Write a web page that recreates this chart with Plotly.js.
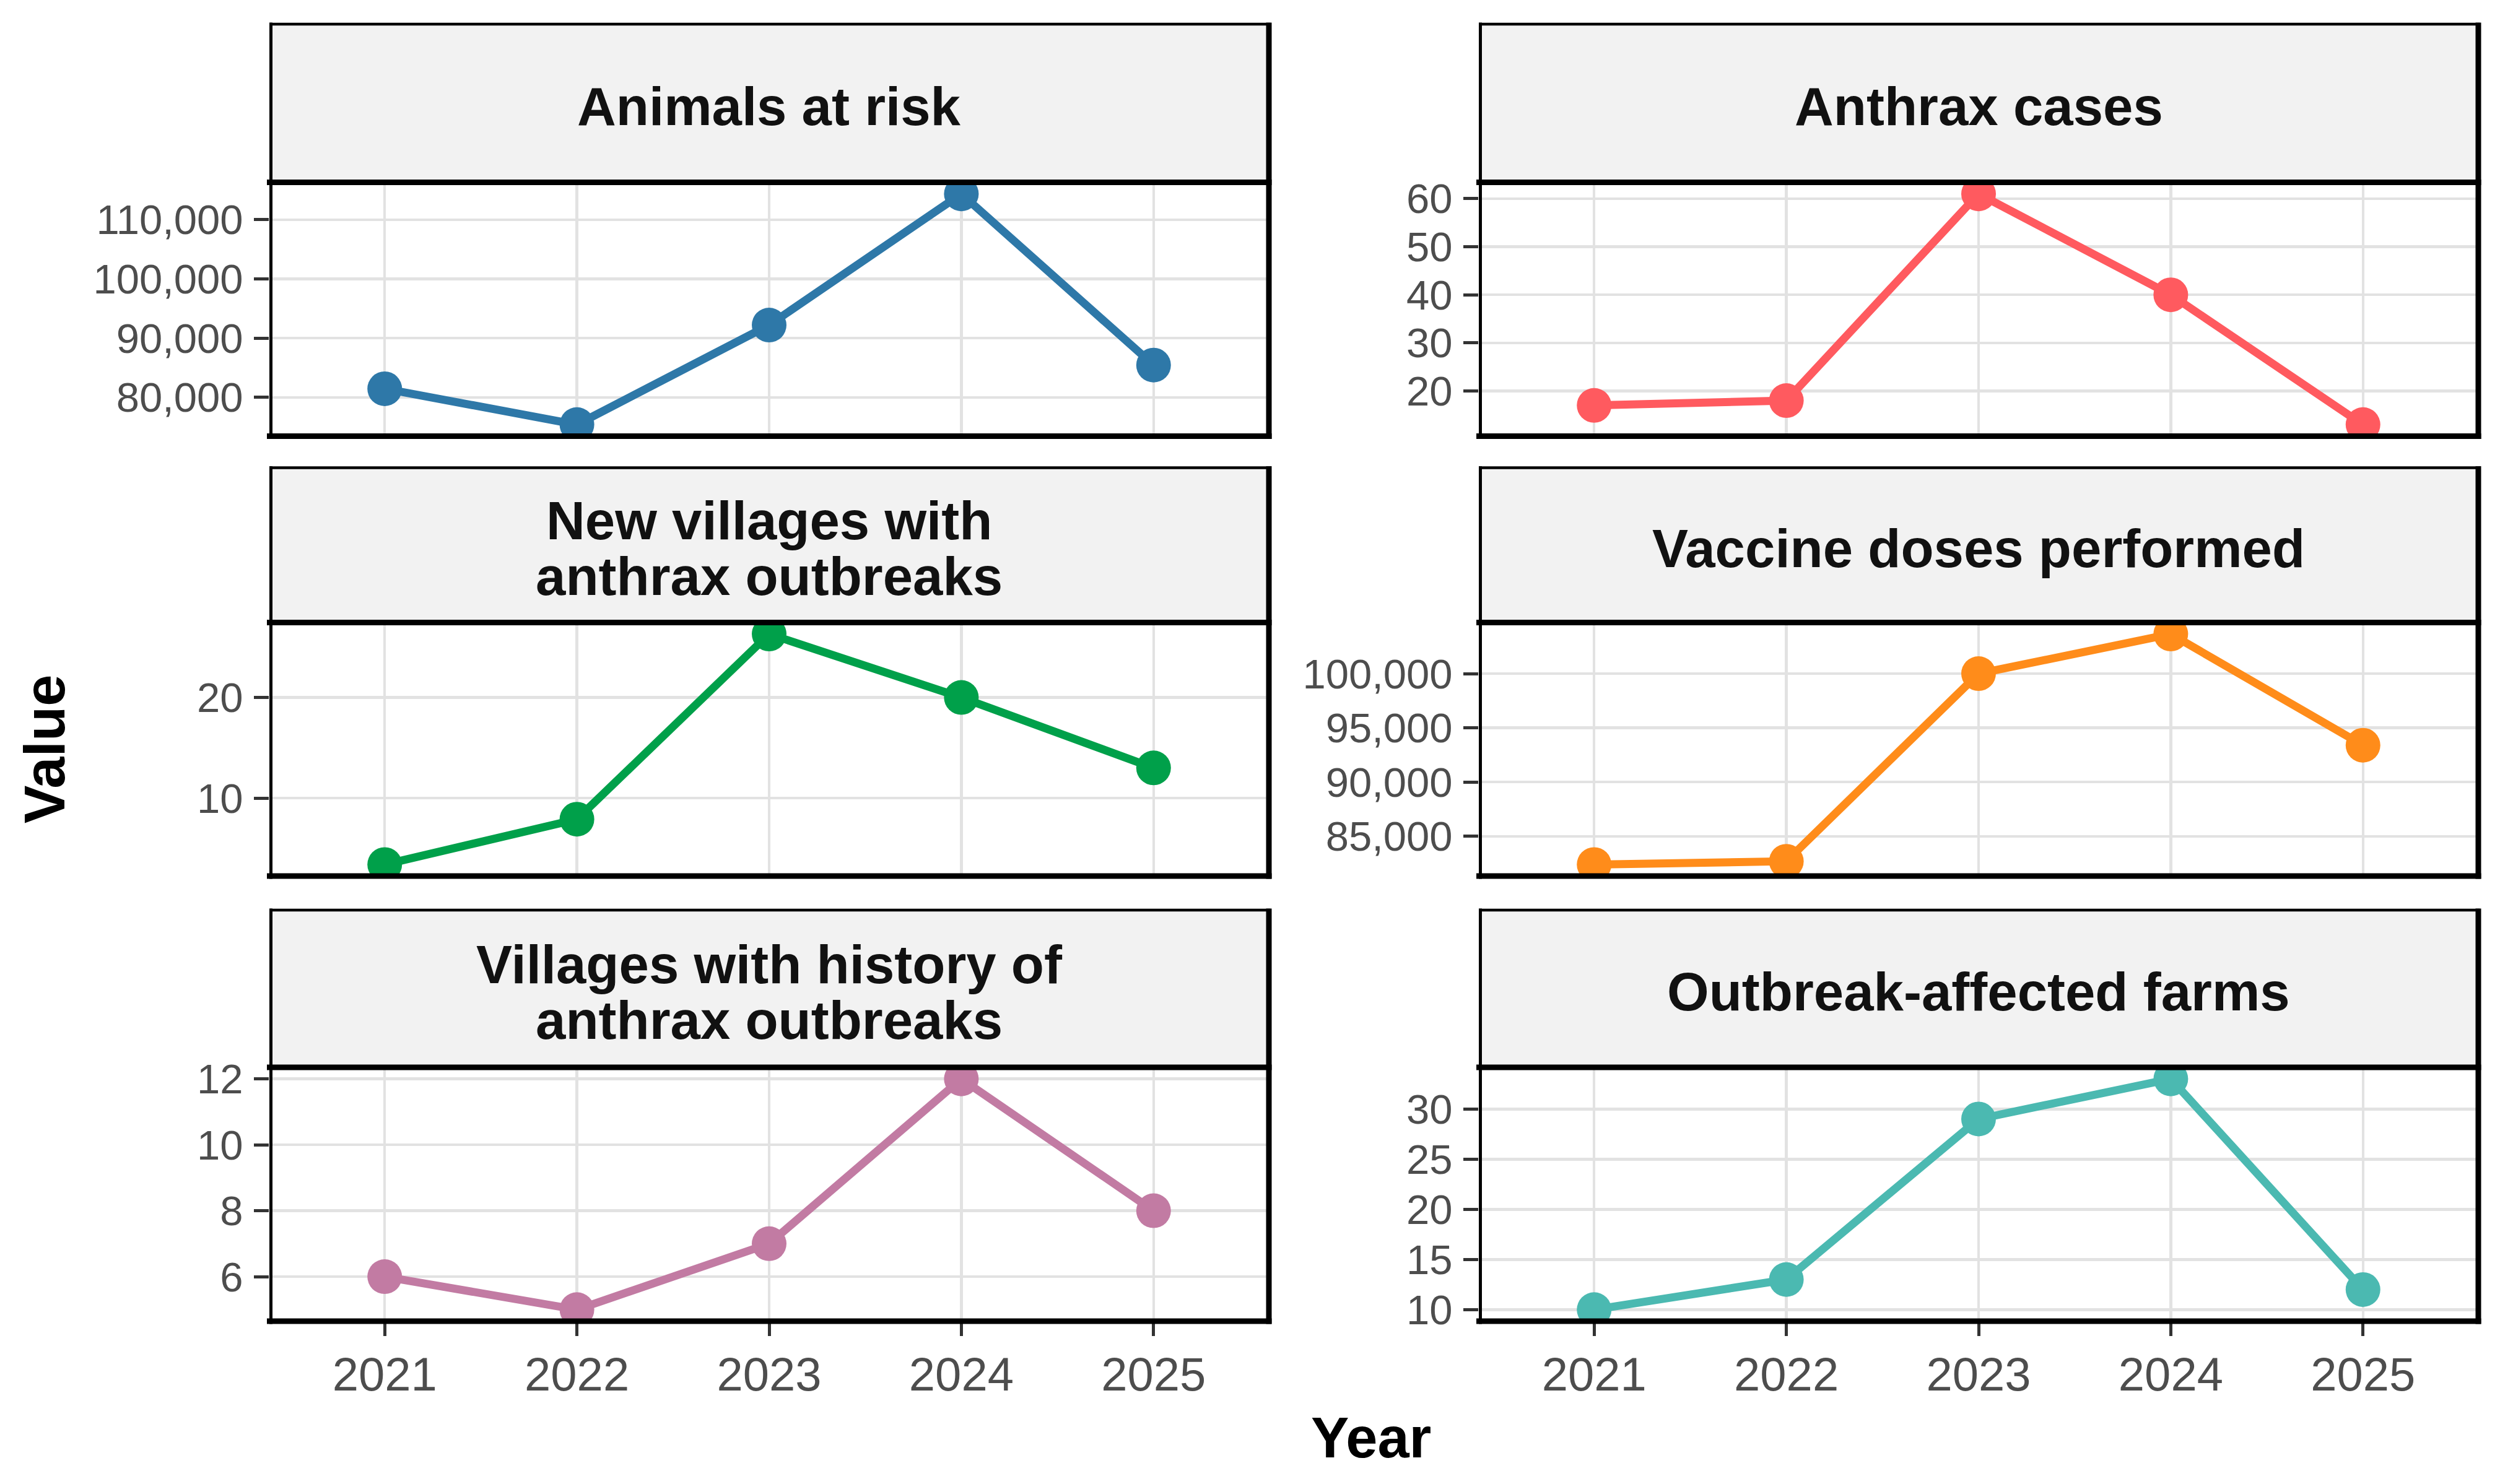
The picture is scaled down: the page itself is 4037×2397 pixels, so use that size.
<!DOCTYPE html>
<html>
<head>
<meta charset="utf-8">
<script src="https://cdn.plot.ly/plotly-3.0.1.min.js"></script>
<style>html,body{margin:0;padding:0;background:#fff;}#chart{width:4037px;height:2397px;}</style>
</head>
<body>
<div id="chart"></div>
<script>
// ---- data ----
const years = [2021, 2022, 2023, 2024, 2025];
const yearLabels = ["2021", "2022", "2023", "2024", "2025"];

const animalsAtRisk   = [81450, 75400, 92200, 114350, 85450];
const anthraxCases    = [17, 18, 61, 40, 13];
const newVillages     = [3.4, 7.9, 26.3, 20, 13];
const vaccineDoses    = [82400, 82700, 100000, 103650, 93400];
const villagesHistory = [6, 5, 7, 12, 8];
const affectedFarms   = [10, 13, 29, 33, 12];

const animalsTicks   = [80000, 90000, 100000, 110000];
const casesTicks     = [20, 30, 40, 50, 60];
const newVillTicks   = [10, 20];
const vaccineTicks   = [85000, 90000, 95000, 100000];
const historyTicks   = [6, 8, 10, 12];
const farmsTicks     = [10, 15, 20, 25, 30];

const panelTitles = [
  ["Animals at risk"],
  ["Anthrax cases"],
  ["New villages with", "anthrax outbreaks"],
  ["Vaccine doses performed"],
  ["Villages with history of", "anthrax outbreaks"],
  ["Outbreak-affected farms"]
];
const panelColors = ["#2E78A8", "#FF5A5F", "#00A04A", "#FF8C1A", "#C27BA3", "#4BB9B1"];
const panelValues = [animalsAtRisk, anthraxCases, newVillages, vaccineDoses, villagesHistory, affectedFarms];
const panelTicks  = [animalsTicks, casesTicks, newVillTicks, vaccineTicks, historyTicks, farmsTicks];

// ---- geometry (pixels) ----
const W = 4037, H = 2397;
const fx = p => p / W;
const fy = p => 1 - p / H;
const cols = [[435, 2049], [2388, 4002]];
const rows = [[294.5, 704.5], [1005.5, 1415], [1724, 2134]];
const stripTops = [39, 755.5, 1470];

const FONT = "Liberation Sans, Arial, Helvetica, sans-serif";
const traces = [];
const layout = {
  width: W, height: H,
  margin: {l: 0, r: 0, t: 0, b: 0},
  paper_bgcolor: "#ffffff",
  plot_bgcolor: "#ffffff",
  showlegend: false,
  font: {family: FONT},
  shapes: [],
  annotations: []
};

for (let i = 0; i < 6; i++) {
  const r = Math.floor(i / 2), c = i % 2;
  const n = i === 0 ? "" : String(i + 1);
  const vals = panelValues[i];
  const mn = Math.min(...vals), mx = Math.max(...vals);
  const pad = (mx - mn) * 0.05;
  const [x0, x1] = cols[c];
  const [y0, y1] = rows[r];
  const bottomRow = r === 2;

  traces.push({
    type: "scatter", mode: "lines+markers",
    x: years, y: vals,
    xaxis: "x" + n, yaxis: "y" + n,
    line: {color: panelColors[i], width: 13},
    marker: {color: panelColors[i], size: 56, line: {width: 0}},
    cliponaxis: true,
    hoverinfo: "x+y"
  });

  layout["xaxis" + n] = {
    domain: [fx(x0), fx(x1)],
    anchor: "y" + n,
    range: [2020.4, 2025.6],
    tickvals: years, ticktext: yearLabels,
    showgrid: true, gridcolor: "#E2E2E2", gridwidth: 4.5,
    zeroline: false, showline: false,
    ticks: bottomRow ? "outside" : "",
    ticklen: 23, tickwidth: 5, tickcolor: "#333333",
    showticklabels: bottomRow,
    tickfont: {family: FONT, size: 76, color: "#4D4D4D"},
    ticklabelstandoff: -3,
    fixedrange: true
  };
  layout["yaxis" + n] = {
    domain: [fy(y1), fy(y0)],
    anchor: "x" + n,
    range: [mn - pad, mx + pad],
    tickvals: panelTicks[i],
    tickformat: ",",
    showgrid: true, gridcolor: "#E2E2E2", gridwidth: 4.5,
    zeroline: false, showline: false,
    ticks: "outside", ticklen: 24, tickwidth: 5, tickcolor: "#333333",
    tickfont: {family: FONT, size: 67, color: "#4D4D4D"},
    ticklabelstandoff: 4,
    fixedrange: true
  };

  const st = stripTops[r];
  layout.shapes.push({
    type: "rect", xref: "paper", yref: "paper",
    x0: fx(x0 + 2.5), x1: fx(x1), y0: fy(y0), y1: fy(st),
    fillcolor: "#F2F2F2", line: {color: "#000000", width: 4.5}, layer: "above"
  });
  const bl = (xa, ya, xb, yb, w) => layout.shapes.push({
    type: "line", xref: "paper", yref: "paper",
    x0: fx(xa), y0: fy(ya), x1: fx(xb), y1: fy(yb),
    line: {color: "#000000", width: w}, layer: "above"
  });
  bl(x0 - 4, y0, x1 + 4.5, y0, 9);
  bl(x0 - 4, y1, x1 + 4.5, y1, 9);
  bl(x1, st - 2.5, x1, y1 + 4.5, 9);
  bl(x0 + 2.5, st - 2.5, x0 + 2.5, y1 + 4.5, 5);

  const lines = panelTitles[i];
  const cx = fx((x0 + x1) / 2);
  const cy = (st + y0) / 2 + 5;
  const gap = 90;
  lines.forEach((t, k) => {
    const yy = cy + (k - (lines.length - 1) / 2) * gap;
    layout.annotations.push({
      text: "<b>" + t + "</b>", xref: "paper", yref: "paper",
      x: cx, y: fy(yy), xanchor: "center", yanchor: "middle",
      showarrow: false, font: {family: FONT, size: 87, color: "#111111"}
    });
  });
}

layout.annotations.push({
  text: "<b>Value</b>", xref: "paper", yref: "paper",
  x: fx(72), y: fy(1210), xanchor: "center", yanchor: "middle",
  textangle: -90, showarrow: false, font: {family: FONT, size: 92, color: "#000000"}
});
layout.annotations.push({
  text: "<b>Year</b>", xref: "paper", yref: "paper",
  x: fx(2214), y: fy(2322), xanchor: "center", yanchor: "middle",
  showarrow: false, font: {family: FONT, size: 92, color: "#000000"}
});

Plotly.newPlot("chart", traces, layout, {displayModeBar: false, staticPlot: true});
</script>
</body>
</html>
